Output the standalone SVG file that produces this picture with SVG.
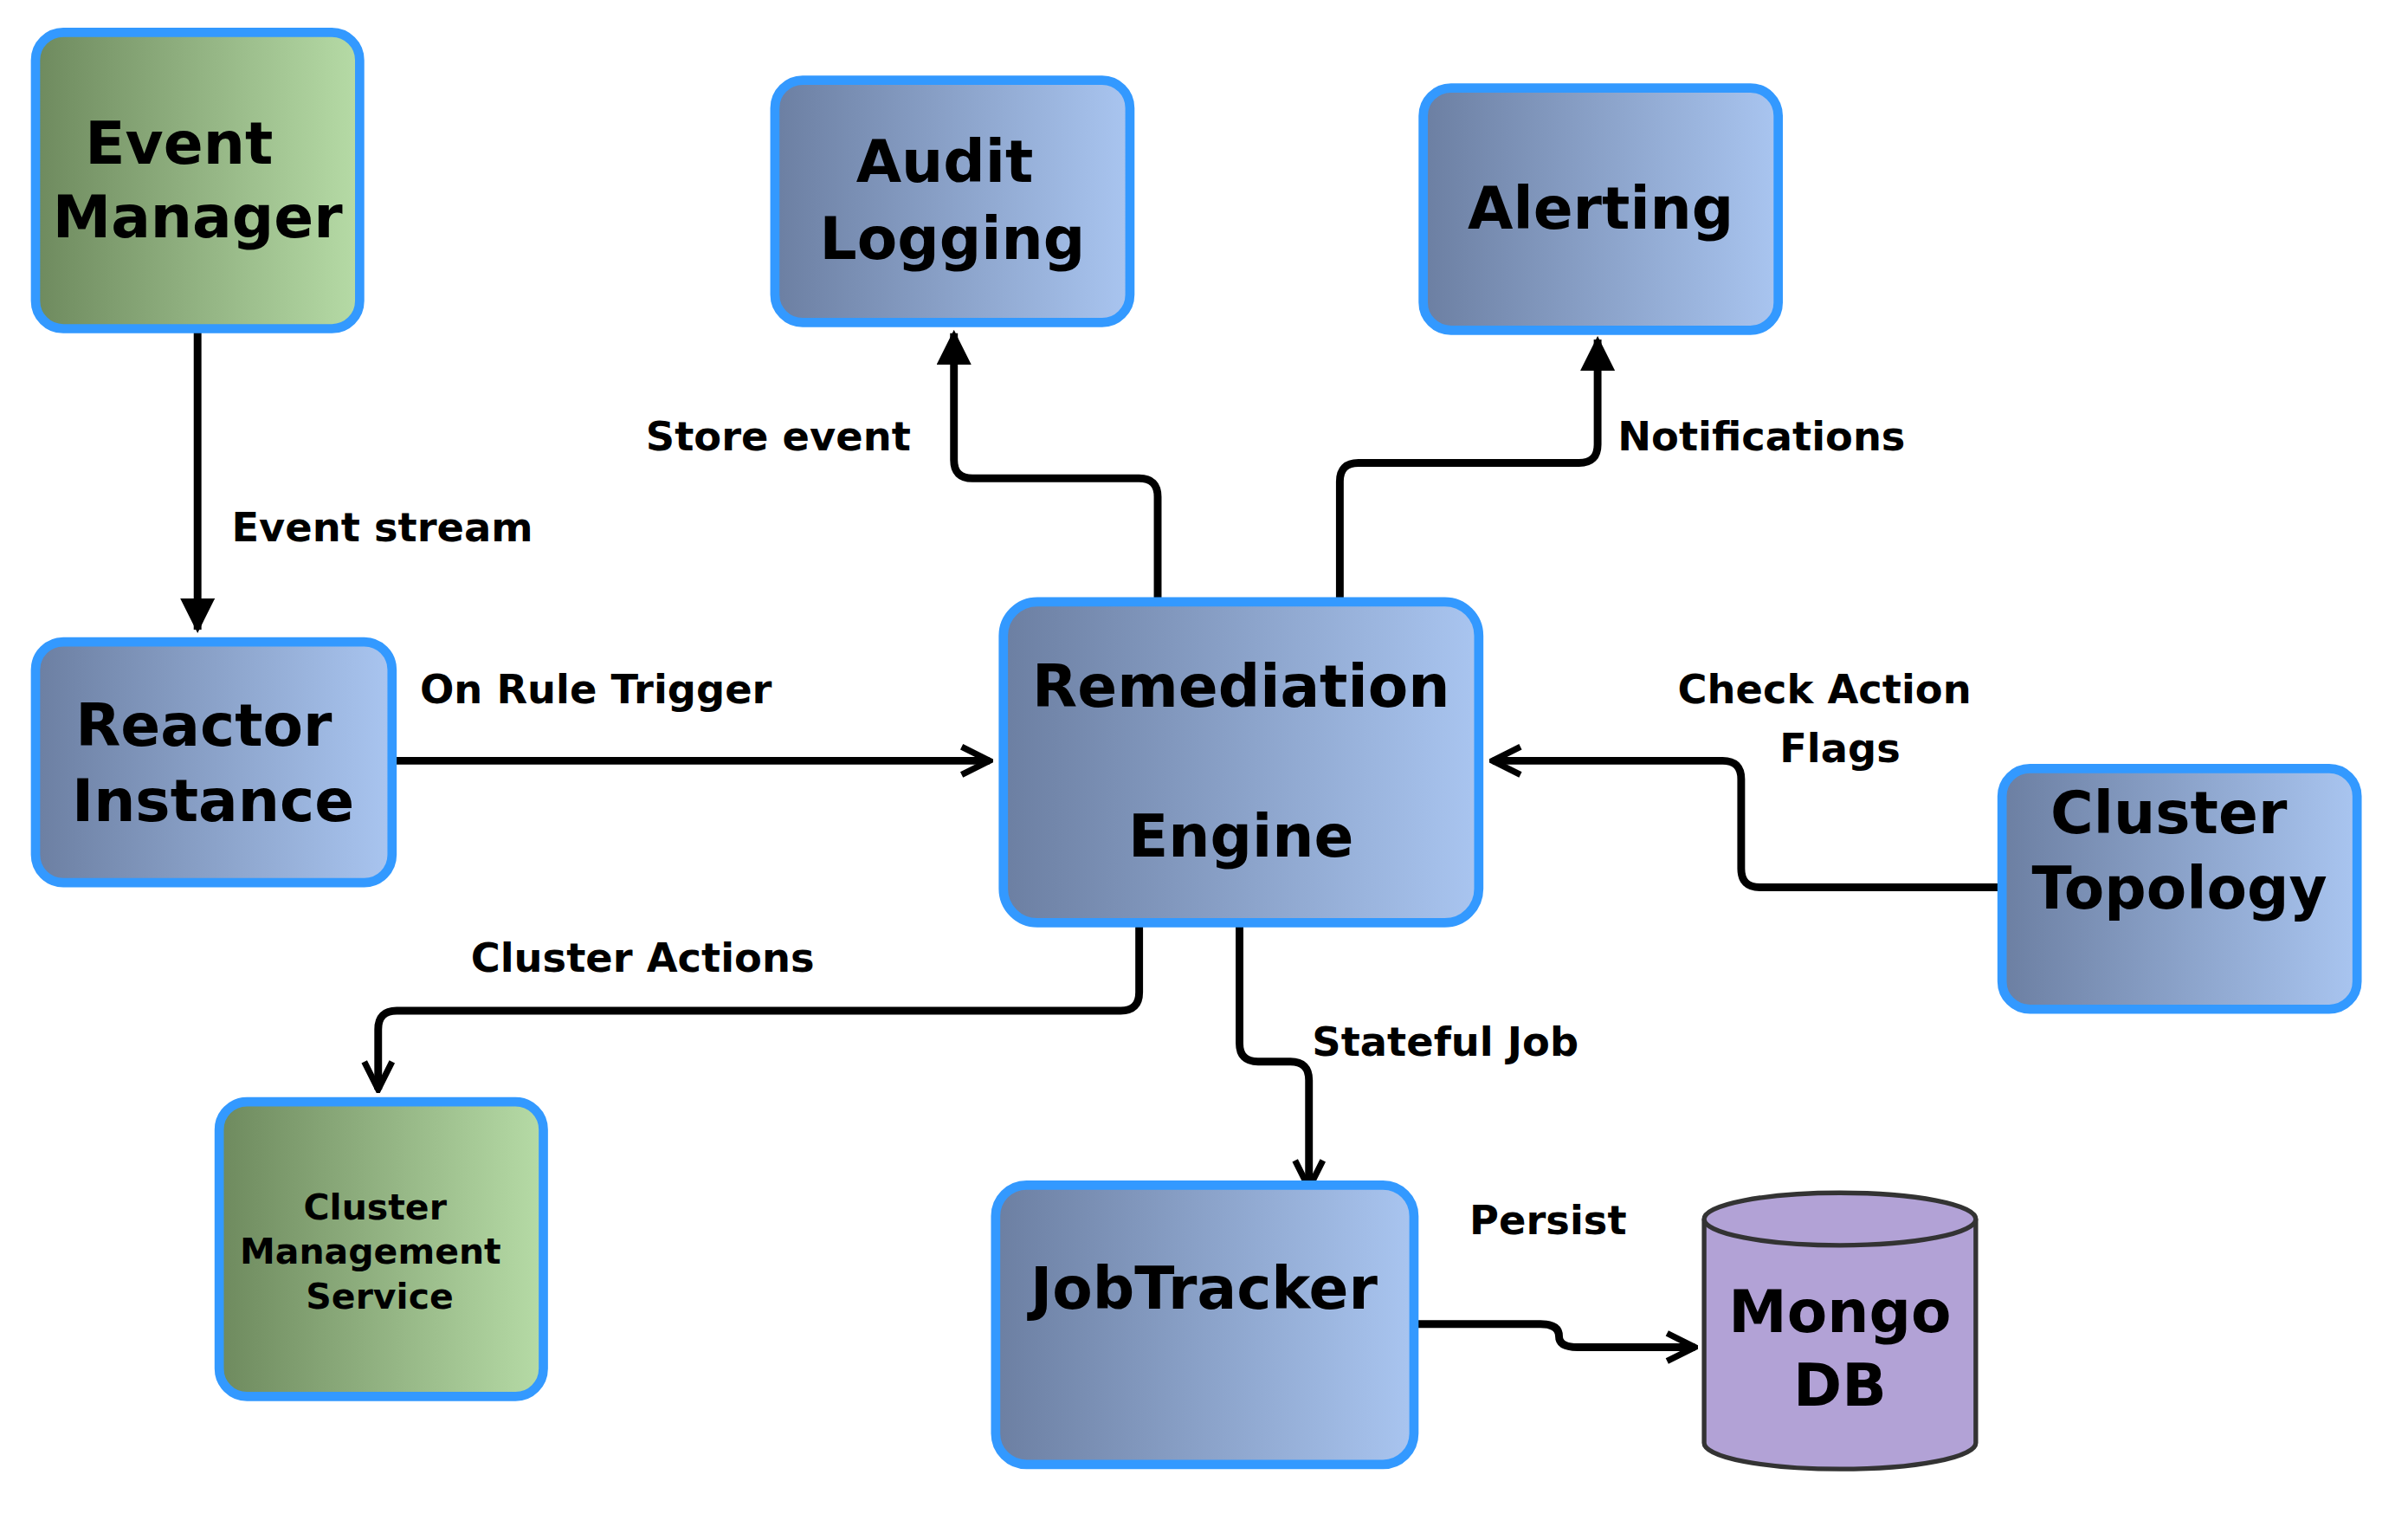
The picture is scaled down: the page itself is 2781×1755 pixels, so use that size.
<svg xmlns="http://www.w3.org/2000/svg" width="2781" height="1755" viewBox="0 0 2781 1755">
<defs>
<linearGradient id="gb" x1="0" y1="0" x2="1" y2="0"><stop offset="0" stop-color="#6c7fa2"/><stop offset="1" stop-color="#a9c5f0"/></linearGradient>
<linearGradient id="gg" x1="0" y1="0" x2="1" y2="0"><stop offset="0" stop-color="#6e8a5e"/><stop offset="1" stop-color="#b6dba6"/></linearGradient>
<marker id="af" viewBox="0 0 10 10" refX="9" refY="5" markerWidth="4.5" markerHeight="4.5" orient="auto" markerUnits="strokeWidth"><path d="M0,0 L10,5 L0,10 Z" fill="#000"/></marker>
<marker id="ao" viewBox="0 0 10 10" refX="9" refY="5" markerWidth="4.5" markerHeight="4.5" orient="auto" markerUnits="strokeWidth"><path d="M1,1 L9,5 L1,9" fill="none" stroke="#000" stroke-width="1.8" stroke-linejoin="miter"/></marker>
</defs>
<style>
.bx{stroke:#3399ff;stroke-width:6}
.bl{fill:url(#gb)}
.gr{fill:url(#gg)}
.t{font-family:"DejaVu Sans",sans-serif;font-weight:bold;font-size:38px;fill:#000;text-anchor:middle}
.s{font-size:23px}
.l{font-family:"DejaVu Sans",sans-serif;font-weight:bold;font-size:26px;fill:#000}
.c{fill:none;stroke:#000;stroke-width:5;stroke-linejoin:round}
</style>
<rect width="2781" height="1755" fill="#fff"/>
<g transform="scale(1.7827 1.7817)">
<g id="connectors">
<path class="c" d="M128,214 V408" marker-end="url(#af)"/>
<path class="c" d="M255,493 H641" marker-end="url(#ao)"/>
<path class="c" d="M750,388 V322 Q750,310 738,310 H630 Q618,310 618,298 V216" marker-end="url(#af)"/>
<path class="c" d="M868,388 V312 Q868,300 880,300 H1023 Q1035,300 1035,288 V220" marker-end="url(#af)"/>
<path class="c" d="M1295,575 H1140 Q1128,575 1128,563 V505 Q1128,493 1116,493 H967" marker-end="url(#ao)"/>
<path class="c" d="M738,600 V643 Q738,655 726,655 H257 Q245,655 245,667 V706" marker-end="url(#ao)"/>
<path class="c" d="M803,600 V676 Q803,688 815,688 H836 Q848,688 848,700 V770" marker-end="url(#ao)"/>
<path class="c" d="M917,858 H998 Q1010,858 1010,866 Q1010,873 1022,873 H1098" marker-end="url(#ao)"/>
<text class="l" x="150" y="351">Event stream</text>
<text class="l" x="272" y="456">On Rule Trigger</text>
<text class="l" x="590" y="292" text-anchor="end">Store event</text>
<text class="l" x="1048" y="292">Notifications</text>
<text class="l" x="1182" y="456" text-anchor="middle">Check Action</text>
<text class="l" x="1192" y="494" text-anchor="middle">Flags</text>
<text class="l" x="305" y="630">Cluster Actions</text>
<text class="l" x="850" y="684">Stateful Job</text>
<text class="l" x="952" y="800">Persist</text>
</g>
<g id="event-manager"><rect class="bx gr" x="23" y="21" width="210" height="192" rx="18"/><text class="t" x="116" y="106">Event</text><text class="t" x="128" y="154">Manager</text></g>
<g id="audit-logging"><rect class="bx bl" x="502" y="52" width="230" height="157" rx="18"/><text class="t" x="612" y="118">Audit</text><text class="t" x="617" y="168">Logging</text></g>
<g id="alerting"><rect class="bx bl" x="922" y="57" width="230" height="157" rx="18"/><text class="t" x="1037" y="148">Alerting</text></g>
<g id="reactor-instance"><rect class="bx bl" x="23" y="416" width="231" height="156" rx="18"/><text class="t" x="132" y="483">Reactor</text><text class="t" x="138" y="532">Instance</text></g>
<g id="remediation-engine"><rect class="bx bl" x="650" y="390" width="308" height="208" rx="22"/><text class="t" x="804" y="458">Remediation</text><text class="t" x="804" y="555">Engine</text></g>
<g id="cluster-topology"><rect class="bx bl" x="1297" y="498" width="230" height="156" rx="18"/><text class="t" x="1405" y="540">Cluster</text><text class="t" x="1412" y="589">Topology</text></g>
<g id="cluster-management-service"><rect class="bx gr" x="142" y="714" width="210" height="191" rx="18"/><text class="t s" x="243" y="790">Cluster</text><text class="t s" x="240" y="819">Management</text><text class="t s" x="246" y="848">Service</text></g>
<g id="jobtracker"><rect class="bx bl" x="645" y="768" width="271" height="181" rx="20"/><text class="t" x="780" y="848">JobTracker</text></g>
<g id="mongo-db"><path d="M1104,790 V935 A88,17 0 0 0 1280,935 V790" fill="#b2a2d6" stroke="#333" stroke-width="3"/><ellipse cx="1192" cy="790" rx="88" ry="17" fill="#b2a2d6" stroke="#333" stroke-width="3"/><text class="t" x="1192" y="863">Mongo</text><text class="t" x="1192" y="911">DB</text></g>
</g>
</svg>
